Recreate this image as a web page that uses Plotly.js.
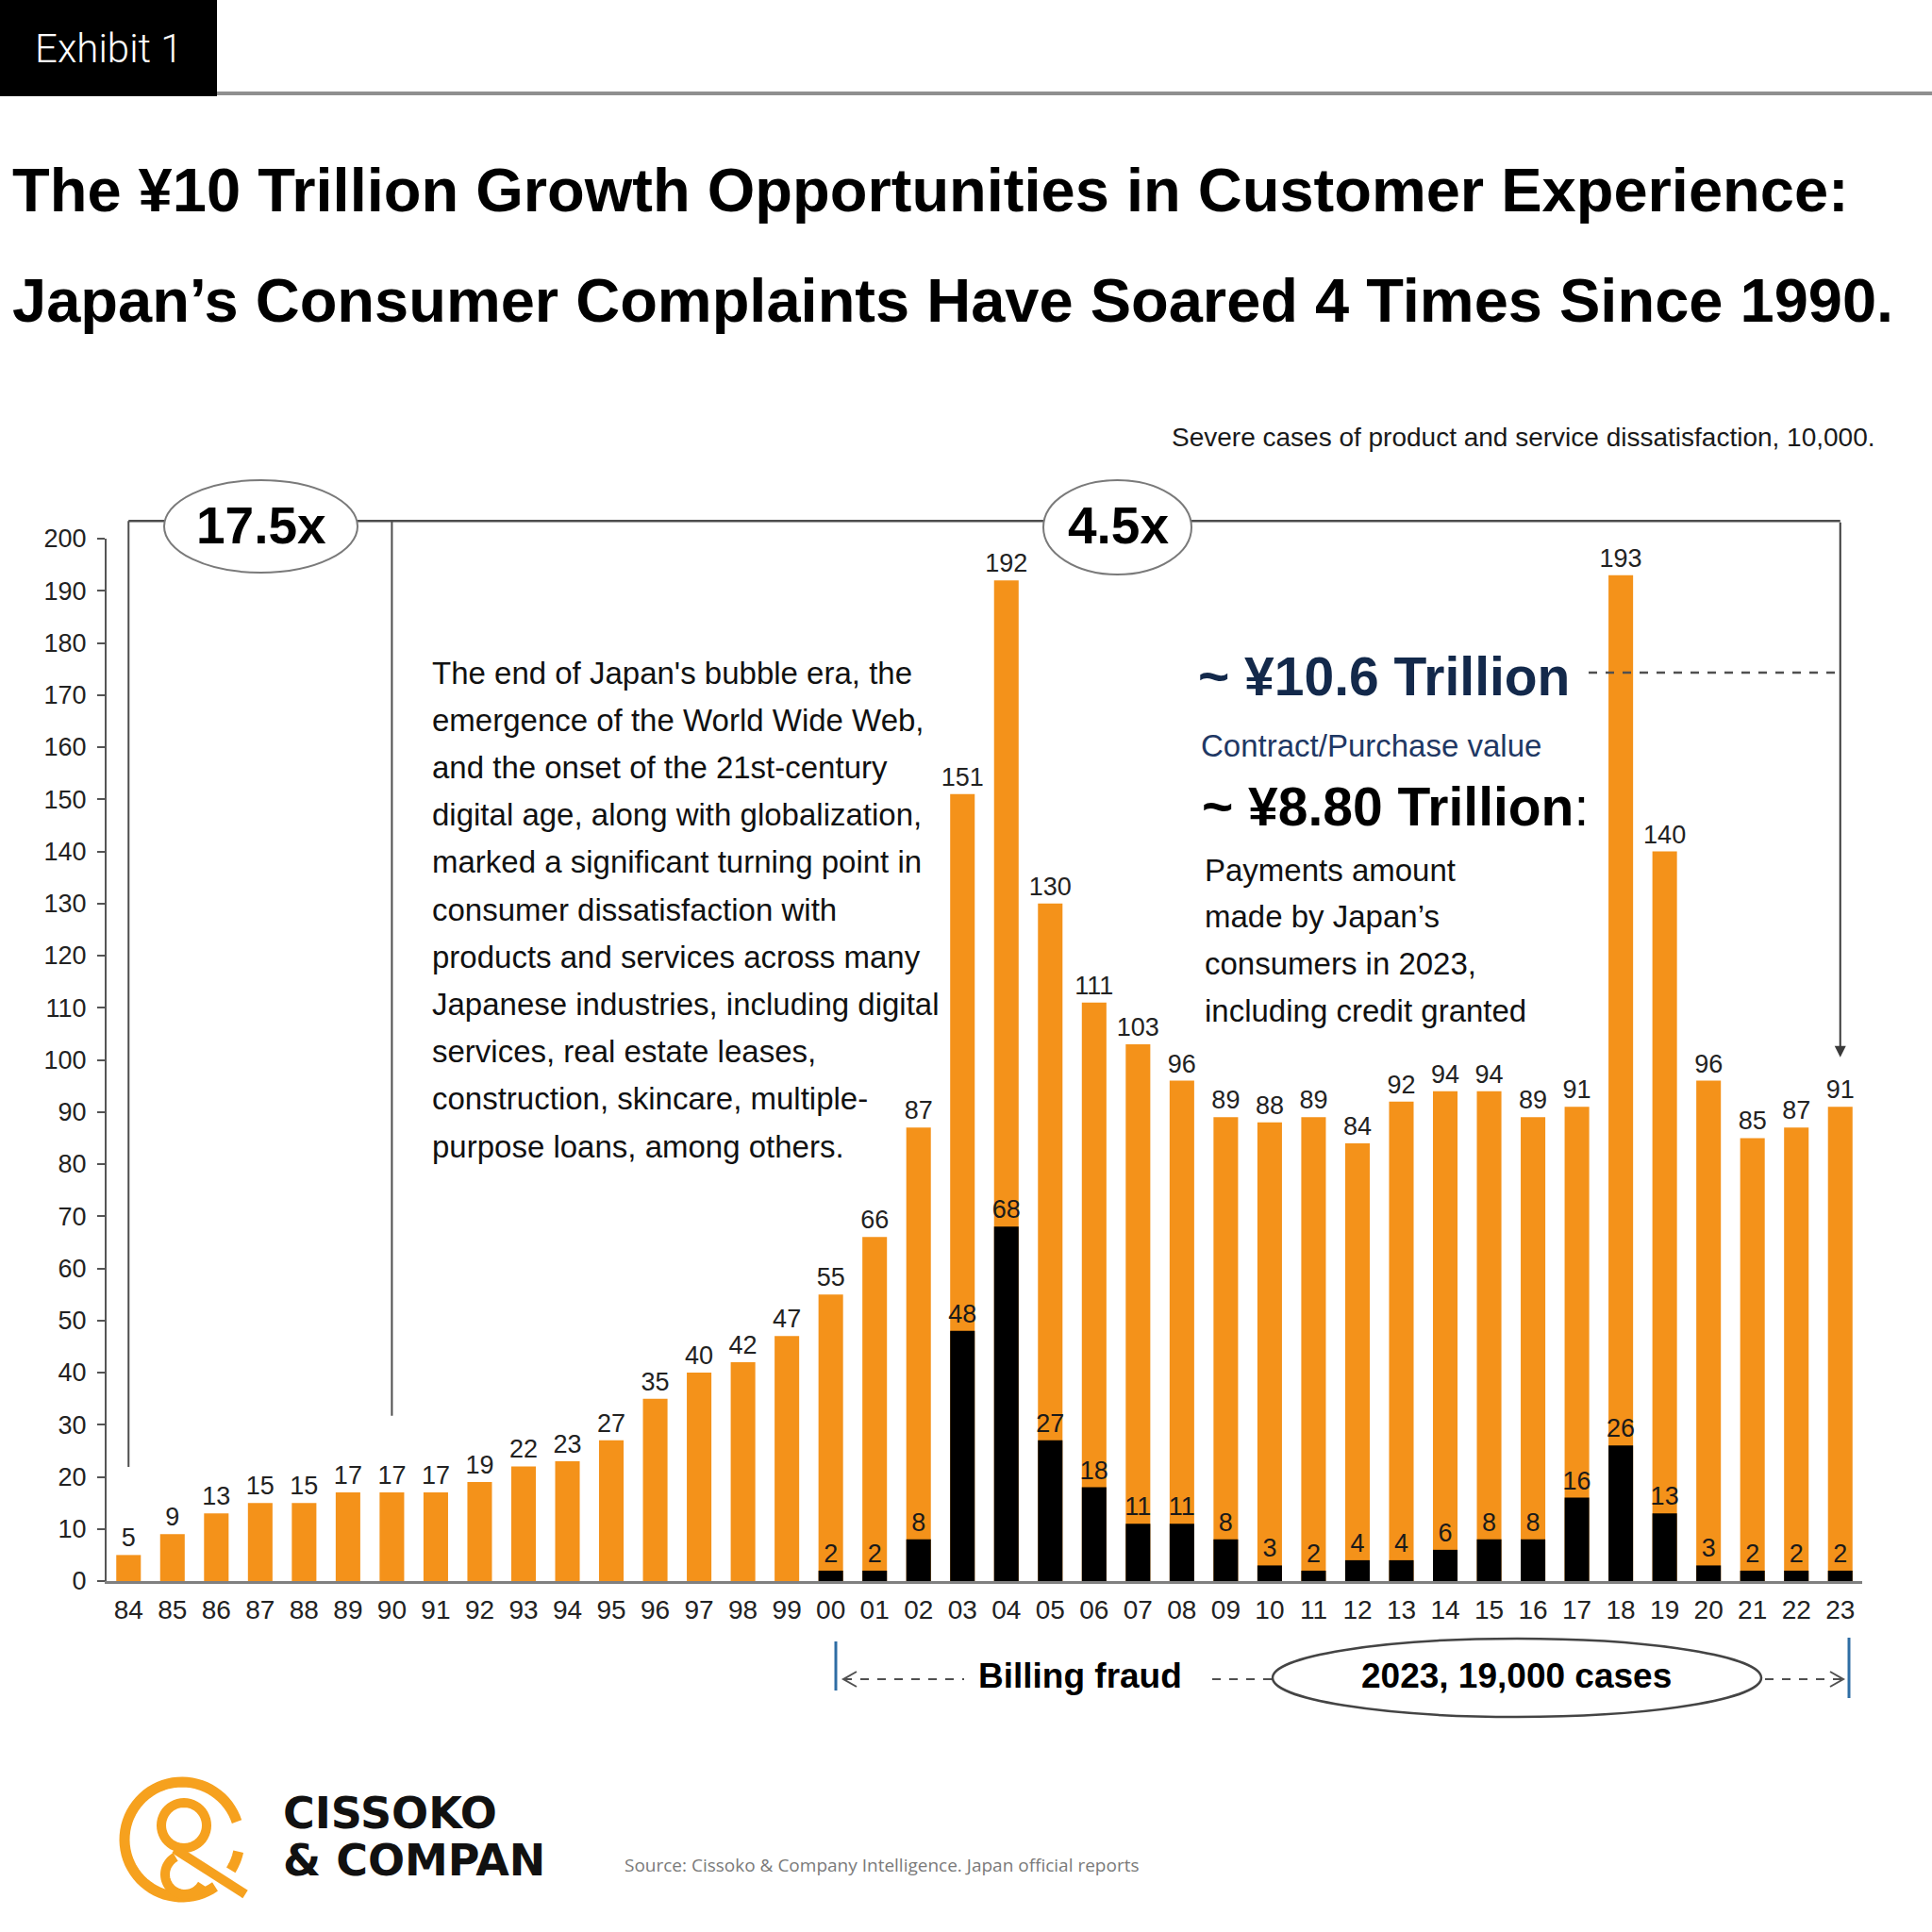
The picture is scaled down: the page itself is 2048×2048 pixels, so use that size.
<!DOCTYPE html>
<html>
<head>
<meta charset="utf-8">
<script src="https://cdn.plot.ly/plotly-3.0.1.min.js"></script>
<style>
  html, body { margin: 0; padding: 0; background: #ffffff; }
  #chart { width: 2048px; height: 2048px; }
</style>
</head>
<body>
<div id="chart"></div>
<script>
// Fiscal years (two-digit labels), 1984 to 2023
const years = ['84','85','86','87','88','89','90','91','92','93','94','95','96','97','98','99',
               '00','01','02','03','04','05','06','07','08','09','10','11','12','13','14','15',
               '16','17','18','19','20','21','22','23'];

// Consultations on product / service dissatisfaction, in units of 10,000 cases
const totalCases = [5, 9, 13, 15, 15, 17, 17, 17, 19, 22, 23, 27, 35, 40, 42, 47,
                    55, 66, 87, 151, 192, 130, 111, 103, 96, 89, 88, 89, 84, 92, 94, 94,
                    89, 91, 193, 140, 96, 85, 87, 91];

// Of which billing-fraud cases (recorded from 2000 onward)
const billingFraud = [null, null, null, null, null, null, null, null, null, null, null, null, null, null, null, null,
                      2, 2, 8, 48, 68, 27, 18, 11, 11, 8, 3, 2, 4, 4, 6, 8,
                      8, 16, 26, 13, 3, 2, 2, 2];

// Growth multiples shown on the bracket
const multipleEarly = '17.5x';
const multipleLate = '4.5x';

// Text blocks
const titleLines = [
  'The ¥10 Trillion Growth Opportunities in Customer Experience:',
  'Japan’s Consumer Complaints Have Soared 4 Times Since 1990.'
];
const contextLines = [
  'The end of Japan\'s bubble era, the',
  'emergence of the World Wide Web,',
  'and the onset of the 21st-century',
  'digital age, along with globalization,',
  'marked a significant turning point in',
  'consumer dissatisfaction with',
  'products and services across many',
  'Japanese industries, including digital',
  'services, real estate leases,',
  'construction, skincare, multiple-',
  'purpose loans, among others.'
];
const paymentLines = [
  'Payments amount',
  'made by Japan’s',
  'consumers in 2023,',
  'including credit granted'
];

const SANS = "'Liberation Sans', Arial, sans-serif";
const ORANGE = '#F4921A';
const NAVY = '#13294B';

// Plot-area frame in page pixels
const PL = 113, PR = 1974, PT = 571, PB = 1676;
const YMAX = 200;
const PX = x => (x - PL) / (PR - PL);
const PY = y => (PB - y) / (PB - PT);
// category index / data value -> paper fraction
const catX = i => (i + 0.5) / years.length;
const valY = v => v / YMAX;

// Bracket heights in data units
const bracketTop = 203.4;
const bracketEnd84 = 21.9;
const bracketEnd90 = 31.7;
const arrowTip23 = 100.5;
const idx = y => years.indexOf(y);

function arcPoints(cx, cy, r, a0, a1, n) {
  const pts = [];
  for (let i = 0; i <= n; i++) {
    const a = (a0 + (a1 - a0) * i / n) * Math.PI / 180;
    pts.push([cx + r * Math.cos(a), cy - r * Math.sin(a)]);
  }
  return pts;
}
function toPath(pts, close) {
  return pts.map((p, i) => (i ? 'L' : 'M') + PX(p[0]).toFixed(5) + ',' + PY(p[1]).toFixed(5)).join(' ') + (close ? ' Z' : '');
}

const traces = [
  {
    type: 'bar',
    x: years,
    y: totalCases,
    marker: { color: ORANGE, line: { width: 0 } },
    width: 0.56,
    texttemplate: '%{y}',
    textposition: 'outside',
    constraintext: 'none',
    cliponaxis: false,
    textfont: { family: SANS, size: 27, color: '#222222' },
    hoverinfo: 'skip',
    showlegend: false
  },
  {
    type: 'bar',
    x: years,
    y: billingFraud,
    marker: { color: '#000000', line: { width: 0 } },
    width: 0.56,
    texttemplate: '%{y}',
    textposition: 'outside',
    constraintext: 'none',
    cliponaxis: false,
    textfont: { family: SANS, size: 27, color: '#1a1a1a' },
    hoverinfo: 'skip',
    showlegend: false
  }
];

const line = (x0, y0, x1, y1, color, width, dash) => ({
  type: 'line', xref: 'paper', yref: 'paper',
  x0: PX(x0), y0: PY(y0), x1: PX(x1), y1: PY(y1),
  line: { color: color, width: width, dash: dash || 'solid' }
});
const pline = (x0, y0, x1, y1, color, width) => ({
  type: 'line', xref: 'paper', yref: 'paper', x0: x0, y0: y0, x1: x1, y1: y1,
  line: { color: color, width: width }
});

const BRACKET = '#4d4d4d';
const shapes = [
  // header band
  { type: 'rect', xref: 'paper', yref: 'paper', x0: PX(0), x1: PX(230), y0: PY(0), y1: PY(102),
    fillcolor: '#000000', line: { width: 0 } },
  line(230, 99, 2048, 99, '#8f8f8f', 4),

  // growth bracket over the bars
  pline(catX(idx('84')), valY(bracketTop), catX(idx('23')), valY(bracketTop), BRACKET, 2.5),
  pline(catX(idx('84')), valY(bracketTop), catX(idx('84')), valY(bracketEnd84), BRACKET, 2),
  pline(catX(idx('90')), valY(bracketTop), catX(idx('90')), valY(bracketEnd90), BRACKET, 2),
  { type: 'circle', xref: 'paper', yref: 'paper', x0: PX(174), x1: PX(379), y0: PY(509), y1: PY(607),
    fillcolor: '#ffffff', line: { color: '#7a7a7a', width: 2 } },
  { type: 'circle', xref: 'paper', yref: 'paper', x0: PX(1106), x1: PX(1263), y0: PY(509), y1: PY(609),
    fillcolor: '#ffffff', line: { color: '#7a7a7a', width: 2 } },

  // leader from the contract value to the 2023 bracket
  line(1684, 713, 1950, 713, '#505050', 2.5, 'dash'),

  // billing fraud span under the axis
  line(886, 1740, 886, 1792, '#2e6da4', 3),
  line(1960, 1736, 1960, 1800, '#2e6da4', 3),
  line(894, 1780, 1022, 1780, '#505050', 2, 'dash'),
  { type: 'path', xref: 'paper', yref: 'paper',
    path: toPath([[908, 1772], [894, 1780], [908, 1788]]), line: { color: '#505050', width: 2 } },
  line(1285, 1780, 1349, 1780, '#505050', 2, 'dash'),
  { type: 'circle', xref: 'paper', yref: 'paper', x0: PX(1349), x1: PX(1867), y0: PY(1737), y1: PY(1820),
    fillcolor: '#ffffff', line: { color: '#444444', width: 2.5 } },
  line(1871, 1780, 1953, 1780, '#505050', 2, 'dash'),
  { type: 'path', xref: 'paper', yref: 'paper',
    path: toPath([[1940, 1772], [1954, 1780], [1940, 1788]]), line: { color: '#505050', width: 2 } },

  // company mark
  { type: 'path', xref: 'paper', yref: 'paper', path: toPath(arcPoints(193, 1950, 61, 18, 305, 60)),
    line: { color: '#F6A11E', width: 11 } },
  { type: 'path', xref: 'paper', yref: 'paper', path: toPath(arcPoints(193, 1950, 61, -32, -12, 8)),
    line: { color: '#F6A11E', width: 11 } },
  { type: 'path', xref: 'paper', yref: 'paper', path: toPath(arcPoints(195, 1935, 24, 0, 360, 48), true),
    line: { color: '#F6A11E', width: 10 } },
  { type: 'path', xref: 'paper', yref: 'paper', path: toPath(arcPoints(196, 1987, 21, 118, 330, 40)),
    line: { color: '#F6A11E', width: 10 } },
  { type: 'path', xref: 'paper', yref: 'paper', path: toPath([[185, 1960], [260, 2008]]),
    line: { color: '#F6A11E', width: 10 } }
];

const ann = (x, y, text, font, opts) => Object.assign({
  xref: 'paper', yref: 'paper', x: PX(x), y: PY(y), text: text,
  showarrow: false, xanchor: 'left', yanchor: 'middle', align: 'left', font: font
}, opts || {});

const bodyFont = { family: SANS, size: 33, color: '#111111' };
const logoFont = { family: "'DejaVu Sans', sans-serif", size: 46, color: '#111111', weight: 700 };

const annotations = [
  ann(115, 52, 'Exhibit 1', { family: "Roboto, 'Liberation Sans', sans-serif", size: 42, color: '#ffffff', weight: 300 },
      { xanchor: 'center', align: 'center' }),
  ann(11, 201, titleLines[0], { family: SANS, size: 65, color: '#000000', weight: 700 }),
  ann(11, 319, titleLines[1], { family: SANS, size: 65, color: '#000000', weight: 700 }),
  ann(1990, 464, 'Severe cases of product and service dissatisfaction, 10,000.',
      { family: SANS, size: 28, color: '#1a1a1a' }, { xanchor: 'right', align: 'right' }),

  // multiples on the bracket
  ann(277, 557, multipleEarly, { family: SANS, size: 55, color: '#000000', weight: 700 }, { xanchor: 'center', align: 'center' }),
  ann(1185, 557, multipleLate, { family: SANS, size: 55, color: '#000000', weight: 700 }, { xanchor: 'center', align: 'center' }),

  // arrow down to the 2023 bar
  { xref: 'x', yref: 'y', x: idx('23'), y: arrowTip23, axref: 'x', ayref: 'y', ax: idx('23'), ay: bracketTop,
    text: '', showarrow: true, arrowhead: 2, arrowsize: 1.2, arrowwidth: 2, arrowcolor: '#3a3a3a', standoff: 0 },

  ann(1268, 717, '~ ¥10.6 Trillion', { family: SANS, size: 57, color: NAVY, weight: 700 }),
  ann(1271, 790, 'Contract/Purchase value', { family: SANS, size: 33, color: '#1f3864' }),
  ann(1272, 855, '<b>~ ¥8.80 Trillion</b>:', { family: SANS, size: 57, color: '#000000' }),

  ann(1145, 1776, 'Billing fraud', { family: SANS, size: 37, color: '#000000', weight: 700 }, { xanchor: 'center', align: 'center' }),
  ann(1607, 1776, '2023, 19,000 cases', { family: SANS, size: 37, color: '#000000', weight: 700 }, { xanchor: 'center', align: 'center' }),

  ann(298, 1922, 'CISSOKO', logoFont),
  ann(298, 1972, '&amp; COMPAN', logoFont),
  ann(660, 1977, 'Source: Cissoko &amp; Company Intelligence. Japan official reports',
      { family: "'Open Sans', sans-serif", size: 19, color: '#7a7a7a' })
];

// paragraph lines, one annotation each so the leading can follow the layout
contextLines.forEach((t, i) => annotations.push(ann(456, 713 + i * 50.2, t, bodyFont)));
paymentLines.forEach((t, i) => annotations.push(ann(1275, 922 + i * 49.7, t, bodyFont)));

const layout = {
  width: 2048,
  height: 2048,
  paper_bgcolor: '#ffffff',
  plot_bgcolor: '#ffffff',
  margin: { l: PL, r: 2048 - PR, t: PT, b: 2048 - PB, pad: 0 },
  barmode: 'overlay',
  showlegend: false,
  font: { family: SANS, color: '#222222' },
  xaxis: {
    type: 'category',
    range: [-0.5, years.length - 0.5],
    showline: true, linecolor: '#808080', linewidth: 3,
    ticks: '', showgrid: false, zeroline: false,
    tickfont: { family: SANS, size: 28, color: '#222222' },
    ticklabelstandoff: 3
  },
  yaxis: {
    range: [0, YMAX],
    tick0: 0, dtick: 10,
    ticks: 'outside', ticklen: 8, tickwidth: 2, tickcolor: '#555555',
    showline: true, linecolor: '#555555', linewidth: 2,
    showgrid: false, zeroline: false,
    tickfont: { family: SANS, size: 27, color: '#222222' },
    ticklabelstandoff: 6
  },
  shapes: shapes,
  annotations: annotations
};

Plotly.newPlot('chart', traces, layout, { displayModeBar: false, staticPlot: true });
</script>
</body>
</html>
